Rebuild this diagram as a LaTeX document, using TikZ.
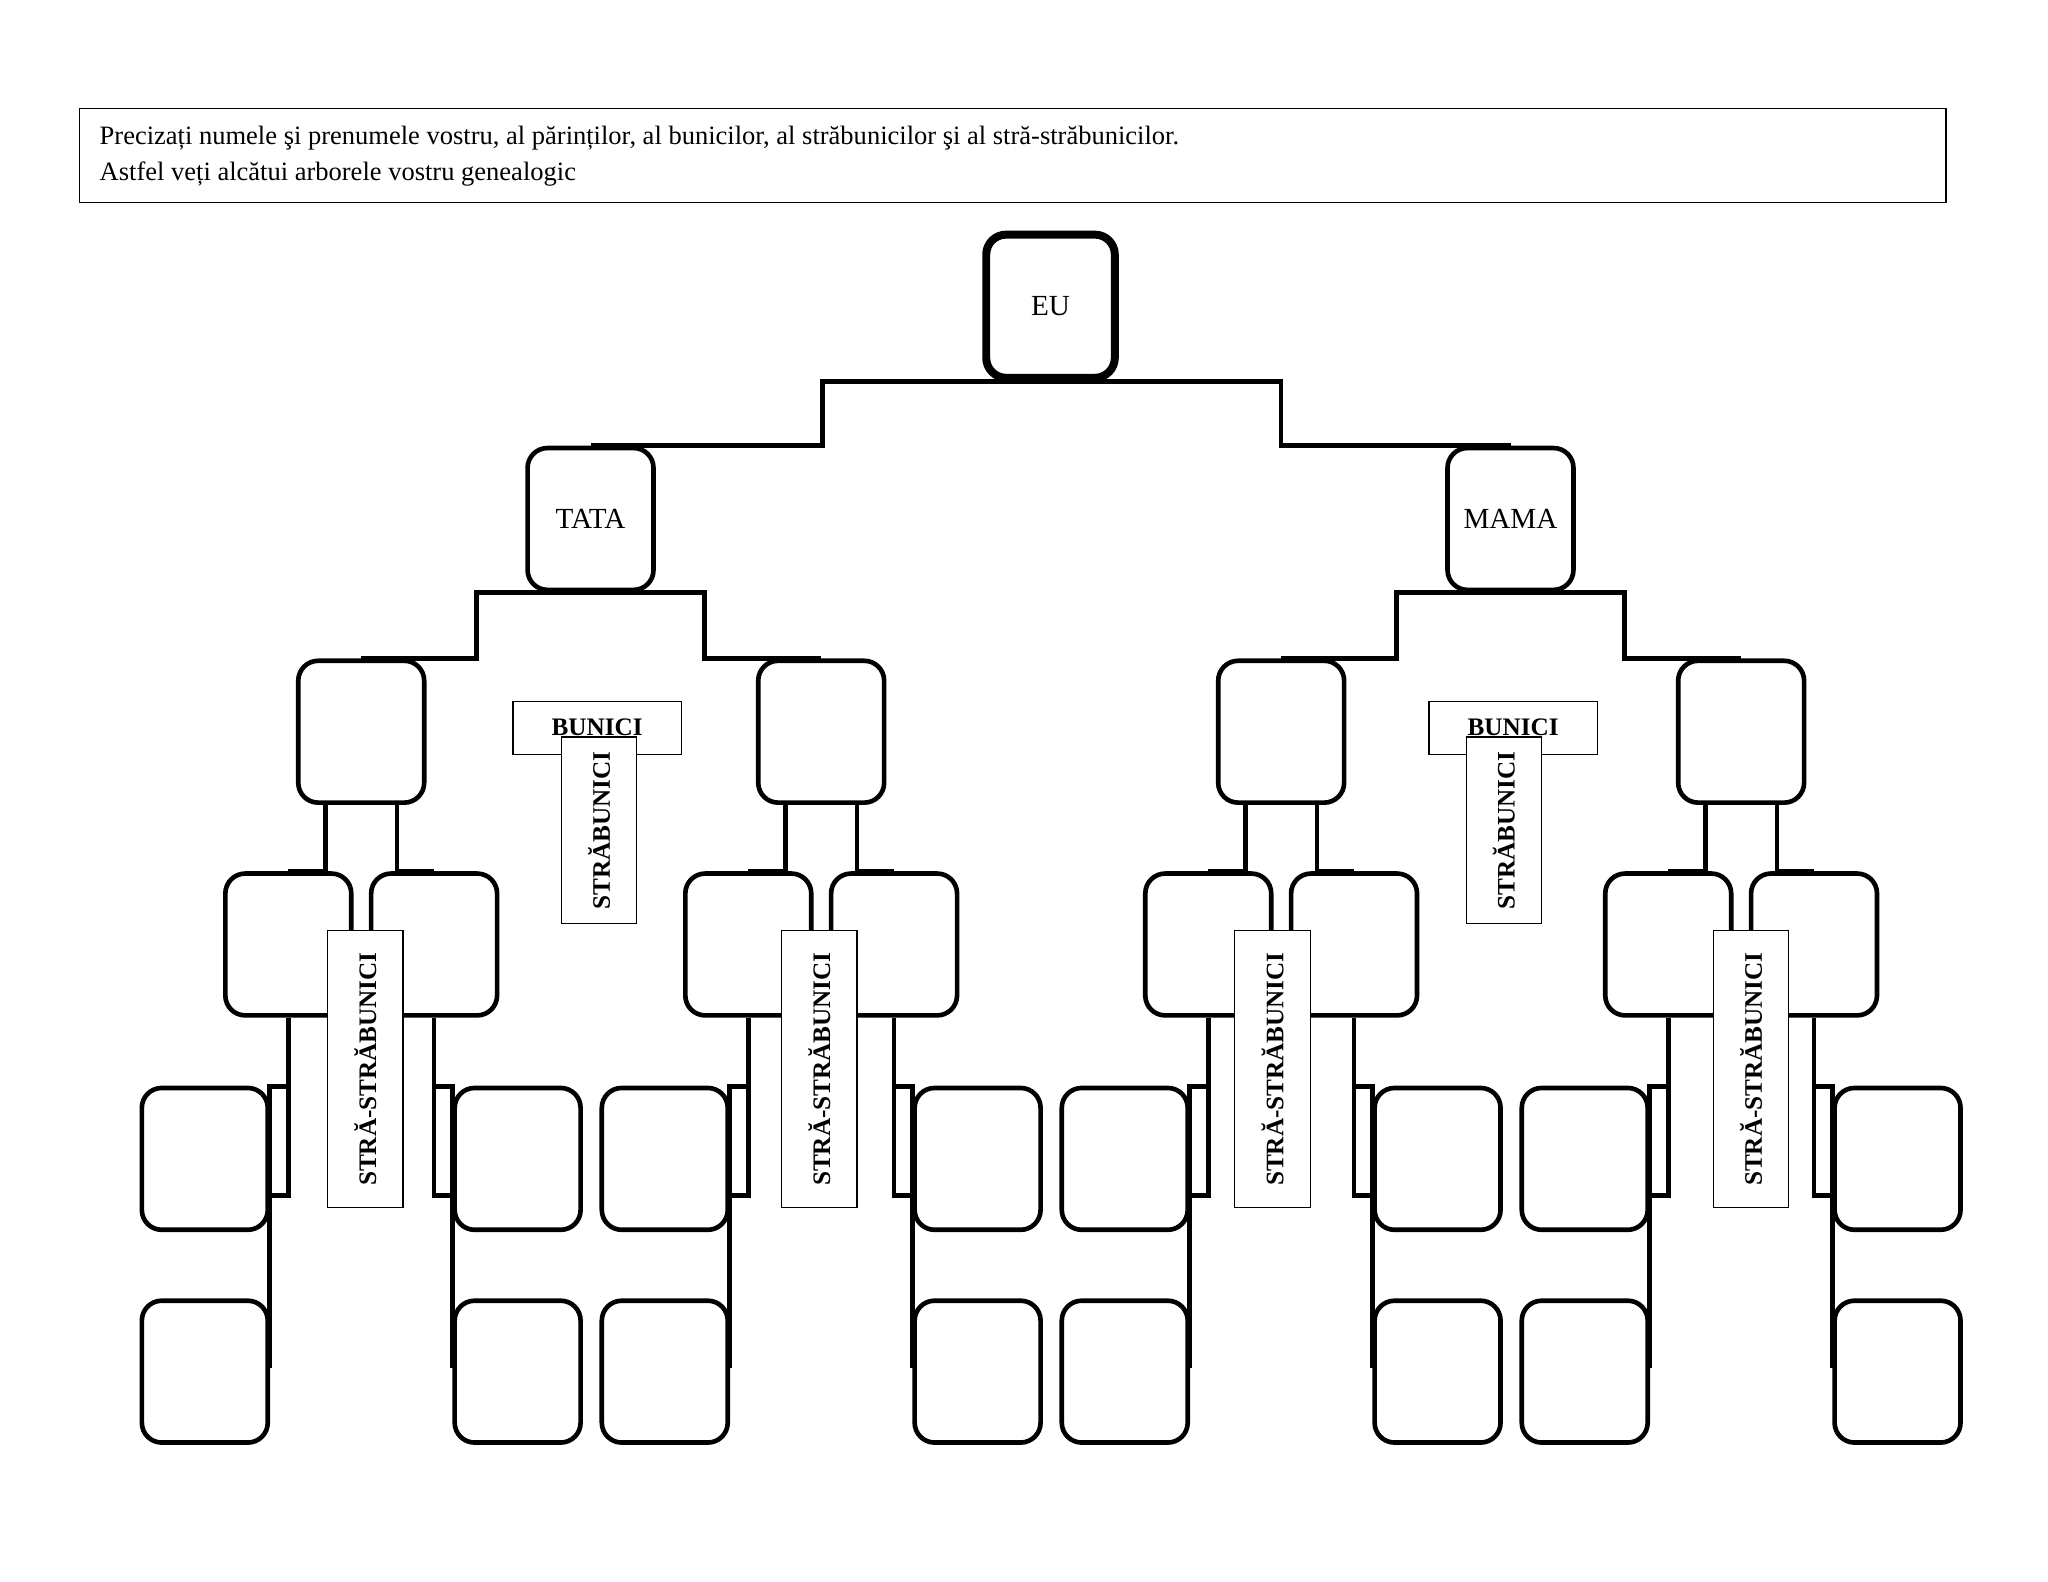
\documentclass[tikz,border=0pt]{standalone}
\usepackage{fontspec}
\setmainfont{Liberation Serif}
\usetikzlibrary{calc}
\begin{document}
\begin{tikzpicture}[x=1pt,y=-1pt,
  box/.style={draw,line width=3.5pt,rounded corners=15pt,minimum width=95pt,minimum height=107pt,inner sep=0pt,font=\fontsize{22}{24}\selectfont},
  conn/.style={line width=3.5pt},
  lbl/.style={draw,fill=white,line width=0.8pt,inner sep=0pt,font=\bfseries\fontsize{19}{21}\selectfont},
  vlbl/.style={lbl,rotate=90,minimum height=57pt}]
\useasboundingbox (0,0) rectangle (1545,1193);
\node[draw,line width=1pt,minimum width=1408pt,minimum height=71pt,inner sep=0pt] (hdr) at (764,117.5) {};
\node[anchor=west,align=left,font=\fontsize{20}{27}\selectfont,inner sep=0pt] (htxt) at (75,118)
 {Precizați numele şi prenumele vostru, al părinților, al bunicilor, al străbunicilor şi al stră-străbunicilor.\\Astfel veți alcătui arborele vostru genealogic};
\node[box,line width=6pt,minimum width=97pt,minimum height=108pt] (eu) at (792.5,231) {EU};
\node[box] (tata) at (445.5,391.5) {TATA};
\node[box] (mama) at (1139.5,391.5) {MAMA};
\draw[conn] (tata.north) -| ($(eu.south)+(-172,0)$) -- ($(eu.south)+(174,0)$) |- (mama.north);
% grandparents
\foreach \n/\x in {g1/272.5,g2/619.5,g3/966.5,g4/1313.5}{
  \node[box] (\n) at (\x,552) {};
}
\draw[conn] (g1.north) -| ($(tata.south)+(-86,0)$) -- ($(tata.south)+(86,0)$) |- (g2.north);
\draw[conn] (g3.north) -| ($(mama.south)+(-86,0)$) -- ($(mama.south)+(86,0)$) |- (g4.north);
% great-grandparents and great-great-grandparents
\foreach \g [count=\i] in {g1,g2,g3,g4}{
  \path (\g.center) coordinate (gc);
  \node[box] (p\i a) at ($(gc)+(-55,160.5)$) {};
  \node[box] (p\i b) at ($(gc)+(55,160.5)$) {};
  \draw[conn] ($(\g.south)+(-27,0)$) |- (p\i a.north);
  \draw[conn] ($(\g.south)+(27,0)$) |- (p\i b.north);
  \foreach \s/\d in {a/-1,b/1}{
    \draw[conn] (p\i\s.south) -- ++(0,134) -- ++(\d*14,0) -- ++(0,-82) -- ++(-\d*14,0);
    \draw[conn] ($(p\i\s.south)+(\d*14,52)$) -- ++(0,212);
    \node[box] (q\i\s1) at ($(p\i\s.south)+(\d*63,106.5)$) {};
    \node[box] (q\i\s2) at ($(p\i\s.south)+(\d*63,267)$) {};
  }
}
% labels
\node[lbl,minimum width=127pt,minimum height=40pt] (bl) at (450.5,549) {BUNICI};
\node[vlbl,minimum width=141pt] (sl) at (452,626.5) {STRĂBUNICI};
\node[lbl,minimum width=127pt,minimum height=40pt] (br) at (1141.5,549) {BUNICI};
\node[vlbl,minimum width=141pt] (sr) at (1134.5,626.5) {STRĂBUNICI};
\foreach \x [count=\i] in {275.5,618,960,1321}{
  \node[vlbl,minimum width=209pt] (ss\i) at (\x,806.5) {STRĂ-STRĂBUNICI};
}
\end{tikzpicture}
\end{document}
